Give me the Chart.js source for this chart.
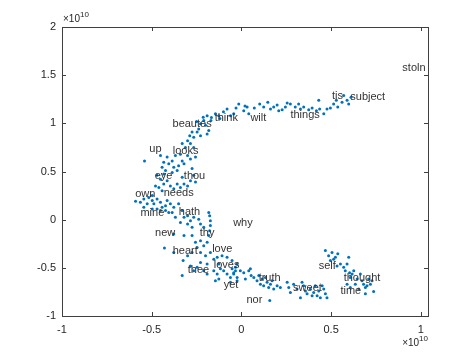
<!DOCTYPE html>
<html>
<head>
<meta charset="utf-8">
<script src="https://cdn.jsdelivr.net/npm/chart.js@4.4.1/dist/chart.umd.min.js"></script>
<style>
  html, body { margin: 0; padding: 0; background: #fff; }
</style>
</head>
<body>
<canvas id="chart" width="474" height="355"></canvas>
<script>
// values are in units of 1e10 (axis shows the x10^10 multiplier)
const xTicks = [-1, -0.5, 0, 0.5, 1];
const yTicks = [-1, -0.5, 0, 0.5, 1, 1.5, 2];

const ptX = [
    // top band
    -0.015, 0.013, 0.032, 0.041, 0.072, 0.102, 0.124, 0.147, 0.162, 0.18, 0.199, 0.208,
    0.227, 0.245, 0.255, 0.273, 0.30, 0.319, 0.329, 0.347, 0.375, 0.394, 0.418, 0.431,
    0.436, 0.459, 0.477, 0.496, 0.514, 0.529, 0.537, 0.561, 0.57, 0.589, 0.598, 0.611,
    // upper left arc
    -0.213, -0.191, -0.167, -0.145, -0.126, -0.08, -0.043, -0.228, -0.20, -0.238, -0.247,
    -0.275, -0.288, -0.266, -0.228, -0.191, -0.182, -0.30, -0.33, -0.284, -0.312, -0.266,
    -0.34, -0.30, -0.256, -0.368, -0.386, -0.33, -0.284, -0.414, -0.433, -0.405, -0.377,
    -0.35, -0.32, -0.442, -0.423, -0.386, -0.358, -0.54, -0.47, -0.451, -0.275, -0.266,
    -0.25, -0.21, -0.17, -0.12, -0.10, -0.06, -0.03, 0.02,
    // left middle
    -0.59, -0.563, -0.544, -0.516, -0.497, -0.525, -0.488, -0.47, -0.451, -0.442, -0.423,
    -0.414, -0.396, -0.377, -0.386, -0.405, -0.423, -0.451, -0.47, -0.497, -0.479, -0.46,
    -0.442, -0.433, -0.414, -0.396, -0.377, -0.358, -0.34, -0.32, -0.30, -0.284, -0.256,
    -0.433, -0.33, -0.451, -0.497, -0.544, -0.35, -0.33, -0.32, -0.30, -0.284, -0.266,
    -0.238, -0.228, -0.21, -0.275, -0.30, -0.34, -0.368,
    // lower left
    -0.377, -0.32, -0.275, -0.256, -0.228, -0.21, -0.191, -0.182, -0.177, -0.173, -0.173,
    -0.177, -0.182, -0.247, -0.275, -0.30, -0.228, -0.20, -0.173, -0.154, -0.135, -0.126,
    -0.191, -0.228, -0.247, -0.284, -0.266, -0.21, -0.191, -0.154, -0.135, -0.117, -0.099,
    -0.08, -0.061, -0.043, -0.033, -0.024, -0.052, -0.08, -0.108, -0.325, -0.33, -0.429,
    -0.377, -0.145, -0.126, -0.061, -0.024, -0.006,
    // bottom
    -0.052, -0.043, -0.033, -0.024, 0.013, 0.022, 0.041, 0.05, 0.054, 0.069, 0.087, 0.097,
    0.106, 0.115, 0.124, 0.134, 0.143, 0.152, 0.162, 0.171, 0.18, 0.199, 0.217, 0.158,
    0.255, 0.264, 0.273, 0.291, 0.31, 0.329, 0.338, 0.347, 0.357, 0.366, 0.384, 0.394,
    0.403, 0.412, 0.422, 0.431, 0.44, 0.45, 0.459, 0.468, 0.477,
    // right cluster
    0.468, 0.486, 0.496, 0.505, 0.514, 0.524, 0.533, 0.537, 0.552, 0.57, 0.579, 0.589,
    0.598, 0.603, 0.607, 0.617, 0.626, 0.635, 0.645, 0.663, 0.672, 0.681, 0.691, 0.70,
    0.709, 0.719, 0.728, 0.737, 0.691, 0.654, 0.607, 0.589
];

const ptY = [
    // top band
    1.20, 1.13, 1.17, 1.10, 1.16, 1.20, 1.17, 1.22, 1.15, 1.17, 1.19, 1.13,
    1.14, 1.17, 1.21, 1.20, 1.17, 1.20, 1.15, 1.17, 1.14, 1.16, 1.13, 1.24,
    1.15, 1.10, 1.15, 1.16, 1.20, 1.24, 1.17, 1.22, 1.29, 1.24, 1.20, 1.27,
    // upper left arc
    1.063, 1.08, 1.06, 1.10, 1.08, 1.15, 1.10, 0.995, 0.98, 0.94, 0.91,
    0.91, 0.87, 0.855, 0.87, 0.89, 0.925, 0.82, 0.79, 0.79, 0.75, 0.75,
    0.68, 0.665, 0.65, 0.665, 0.61, 0.61, 0.63, 0.65, 0.595, 0.58, 0.545,
    0.56, 0.58, 0.545, 0.51, 0.49, 0.51, 0.61, 0.46, 0.665, 0.53, 0.46,
    1.02, 1.03, 1.03, 1.05, 1.12, 1.08, 1.16, 1.18,
    // left middle
    0.19, 0.18, 0.215, 0.23, 0.20, 0.165, 0.165, 0.215, 0.18, 0.13, 0.145,
    0.20, 0.165, 0.13, 0.075, 0.075, 0.095, 0.095, 0.11, 0.11, 0.35, 0.335,
    0.30, 0.37, 0.405, 0.35, 0.32, 0.37, 0.335, 0.37, 0.35, 0.405, 0.39,
    0.475, 0.44, 0.42, 0.25, 0.13, 0.165, 0.095, 0.025, 0.04, -0.01, 0.025,
    0.005, -0.045, -0.08, -0.08, -0.045, -0.03, 0.025,
    // lower left
    -0.15, -0.165, -0.165, -0.235, -0.22, -0.27, -0.235, -0.165, -0.115, -0.06, -0.01,
    0.04, 0.075, -0.29, -0.34, -0.375, -0.34, -0.375, -0.34, -0.41, -0.39, -0.46,
    -0.46, -0.445, -0.495, -0.48, -0.53, -0.53, -0.565, -0.53, -0.565, -0.51, -0.53,
    -0.565, -0.60, -0.55, -0.495, -0.46, -0.425, -0.39, -0.375, -0.425, -0.58, -0.295,
    -0.34, -0.635, -0.615, -0.65, -0.635, -0.53,
    // bottom
    -0.51, -0.565, -0.53, -0.60, -0.55, -0.615, -0.53, -0.51, -0.58, -0.60, -0.635, -0.58,
    -0.67, -0.615, -0.685, -0.60, -0.65, -0.705, -0.67, -0.635, -0.72, -0.685, -0.705, -0.84,
    -0.65, -0.705, -0.755, -0.67, -0.72, -0.81, -0.65, -0.685, -0.74, -0.77, -0.72, -0.79,
    -0.755, -0.685, -0.79, -0.74, -0.81, -0.685, -0.72, -0.77, -0.81,
    // right cluster
    -0.32, -0.375, -0.425, -0.34, -0.41, -0.39, -0.48, -0.355, -0.46, -0.495, -0.53, -0.46,
    -0.39, -0.55, -0.60, -0.565, -0.53, -0.67, -0.615, -0.565, -0.635, -0.67, -0.705, -0.685,
    -0.615, -0.67, -0.635, -0.745, -0.77, -0.72, -0.705, -0.67
];

// word labels: left edge x, centre y
const words = ['stoln', 'tis', 'subject', 'things', 'wilt', 'think', 'beautes', 'up', 'looks',
    'eye', 'thou', 'own', 'needs', 'mine', 'hath', 'why', 'new', 'thy', 'heart', 'love',
    'loves', 'thee', 'yet', 'truth', 'nor', 'sweet', 'self', 'thought', 'time'];
const wordX = [0.897, 0.505, 0.607, 0.273, 0.05, -0.149, -0.384, -0.513, -0.383,
    -0.483, -0.321, -0.592, -0.433, -0.563, -0.349, -0.046, -0.481, -0.232, -0.383, -0.163,
    -0.154, -0.299, -0.099, 0.096, 0.028, 0.288, 0.431, 0.57, 0.552];
const wordY = [1.57, 1.28, 1.27, 1.09, 1.06, 1.06, 0.99, 0.73, 0.71,
    0.45, 0.45, 0.27, 0.28, 0.065, 0.075, -0.035, -0.14, -0.14, -0.33, -0.305,
    -0.47, -0.52, -0.68, -0.605, -0.835, -0.71, -0.485, -0.605, -0.745];

const FONT = "'Liberation Sans', Arial, sans-serif";
const AXIS_COLOR = '#404040';
const TEXT_COLOR = '#262626';

// ── box, inward ticks, word labels, exponent labels ──
const decorPlugin = {
    id: 'decor',
    afterDatasetsDraw(chart) {
        const ctx = chart.ctx;
        const xs = chart.scales.x, ys = chart.scales.y;
        ctx.save();
        ctx.fillStyle = '#333333';
        ctx.font = '11px ' + FONT;
        ctx.textAlign = 'left';
        ctx.textBaseline = 'middle';
        words.forEach((w, i) => {
            ctx.fillText(w, xs.getPixelForValue(wordX[i]), ys.getPixelForValue(wordY[i]));
        });
        ctx.restore();
    },
    afterDraw(chart) {
        const ctx = chart.ctx;
        const a = chart.chartArea;
        const xs = chart.scales.x, ys = chart.scales.y;
        const tl = 4;
        ctx.save();
        ctx.strokeStyle = AXIS_COLOR;
        ctx.lineWidth = 1;
        ctx.strokeRect(Math.round(a.left) + 0.5, Math.round(a.top) + 0.5,
            Math.round(a.right - a.left), Math.round(a.bottom - a.top));
        ctx.beginPath();
        xTicks.forEach(v => {
            const px = Math.round(xs.getPixelForValue(v)) + 0.5;
            ctx.moveTo(px, a.bottom); ctx.lineTo(px, a.bottom - tl);
            ctx.moveTo(px, a.top); ctx.lineTo(px, a.top + tl);
        });
        yTicks.forEach(v => {
            const py = Math.round(ys.getPixelForValue(v)) + 0.5;
            ctx.moveTo(a.left, py); ctx.lineTo(a.left + tl, py);
            ctx.moveTo(a.right, py); ctx.lineTo(a.right - tl, py);
        });
        ctx.stroke();

        // x10^10 multipliers
        ctx.fillStyle = TEXT_COLOR;
        ctx.textBaseline = 'alphabetic';
        ctx.textAlign = 'left';
        const drawExp = (x, y, alignRight) => {
            ctx.font = '10px ' + FONT;
            const w1 = ctx.measureText('\u00d710').width;
            ctx.font = '8px ' + FONT;
            const w2 = ctx.measureText('10').width;
            const x0 = alignRight ? x - w1 - w2 : x;
            ctx.font = '10px ' + FONT;
            ctx.fillText('\u00d710', x0, y);
            ctx.font = '8px ' + FONT;
            ctx.fillText('10', x0 + w1, y - 5);
        };
        drawExp(a.left + 1, a.top - 5, false);
        drawExp(a.right, chart.height - 9, true);
        ctx.restore();
    }
};

const tickFont = { family: FONT, size: 11 };

new Chart(document.getElementById('chart'), {
    type: 'scatter',
    data: {
        datasets: [{
            data: ptX.map((x, i) => ({ x: x, y: ptY[i] })),
            backgroundColor: '#0072BD',
            borderWidth: 0,
            pointRadius: 1.5,
            pointHoverRadius: 1.5
        }]
    },
    options: {
        responsive: false,
        animation: false,
        layout: { padding: { top: 27, right: 46, left: 0, bottom: 0 } },
        plugins: {
            legend: { display: false },
            tooltip: { enabled: false }
        },
        scales: {
            x: {
                type: 'linear',
                min: -1,
                max: 1.04,
                afterBuildTicks: s => { s.ticks = xTicks.map(v => ({ value: v })); },
                afterFit: s => { s.height = 39; },
                grid: { display: false, drawTicks: false },
                border: { display: false },
                ticks: { padding: 7, color: TEXT_COLOR, font: tickFont, maxRotation: 0, callback: v => String(v) }
            },
            y: {
                type: 'linear',
                min: -1,
                max: 2,
                afterBuildTicks: s => { s.ticks = yTicks.map(v => ({ value: v })); },
                afterFit: s => { s.width = 62; },
                grid: { display: false, drawTicks: false },
                border: { display: false },
                ticks: { padding: 6, color: TEXT_COLOR, font: tickFont, callback: v => String(v) }
            }
        }
    },
    plugins: [decorPlugin]
});
</script>
</body>
</html>
